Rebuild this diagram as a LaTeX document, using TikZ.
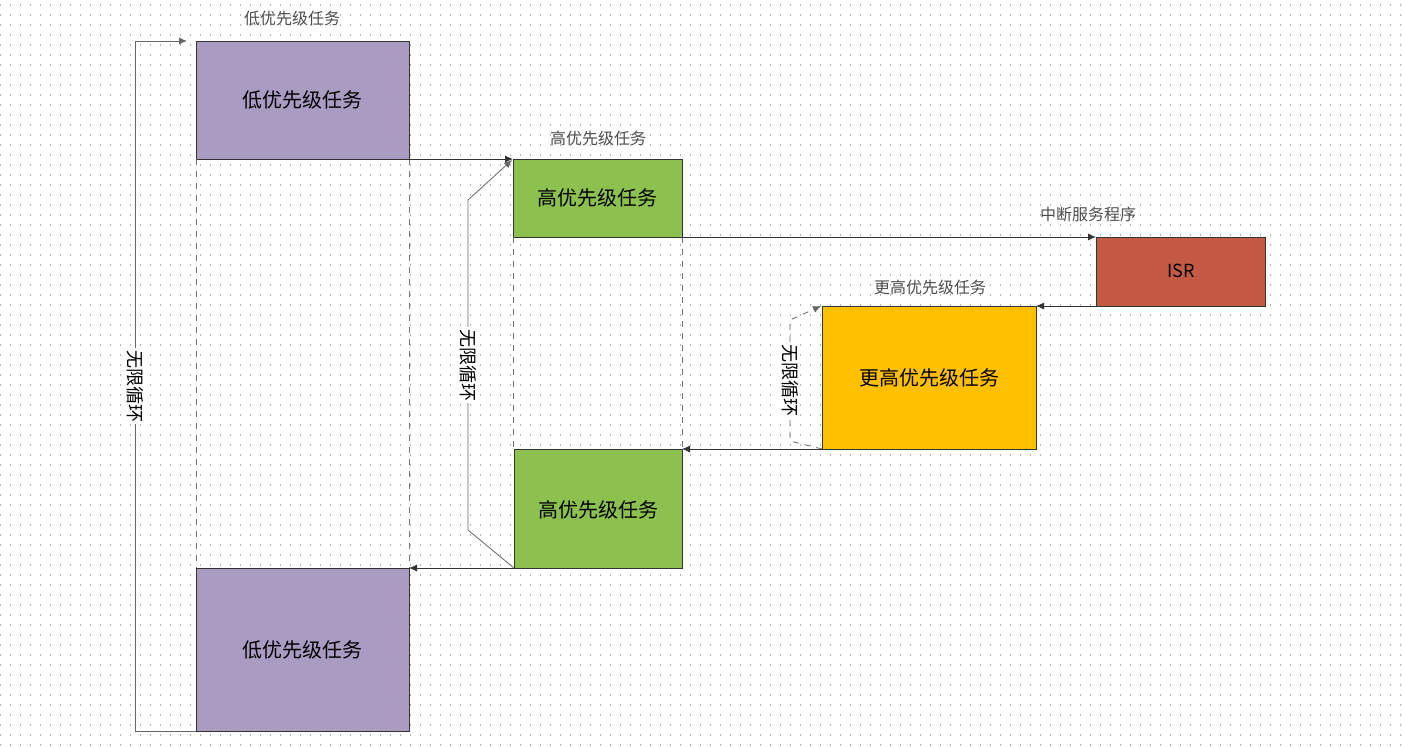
\documentclass[tikz,border=0pt]{standalone}
\usepackage{fontspec}
\setmainfont{Noto Sans CJK SC}
\usepackage{tikz}
\usetikzlibrary{arrows.meta}
\definecolor{lowcol}{HTML}{A99BC2}
\definecolor{highcol}{HTML}{8CC04F}
\definecolor{isrcol}{HTML}{C55A44}
\definecolor{topcol}{HTML}{FFC000}
\tikzset{
  task/.style={draw=black!80, thin},
  title/.style={font=\fontsize{8}{9}\selectfont, text=black!70},
  flow/.style={draw=black!80, thin, -{Latex[length=4pt,width=3.5pt]}},
  loopline/.style={draw=black!60, thin, -{Latex[length=4pt,width=3.5pt]}},
  guide/.style={draw=black!55, dashed, thin},
  looplabel/.style={fill=white, inner sep=1pt, rotate=-90, font=\fontsize{9}{10}\selectfont}
}
\begin{document}
\begin{tikzpicture}[x=0.5pt, y=-0.5pt]
  \useasboundingbox (0,0) rectangle (1402,746);
  % dotted background
  \foreach \yy in {5,15,...,745}
    \draw[black!30, line width=0.6pt, dash pattern=on 0.6pt off 4.4pt] (0,\yy) -- (1402,\yy);

  % task boxes
  \filldraw[task, fill=lowcol] (196,41) rectangle (409,159);
  \node (lowA) at (302,100) {低优先级任务};
  \filldraw[task, fill=highcol] (513,159) rectangle (682,237);
  \node (highA) at (597,198) {高优先级任务};
  \filldraw[task, fill=isrcol] (1096,237) rectangle (1265,306);
  \node (isr) at (1181,271) {\fontsize{9}{10}\selectfont ISR};
  \filldraw[task, fill=topcol] (822,306) rectangle (1036,449);
  \node (top) at (929,378) {更高优先级任务};
  \filldraw[task, fill=highcol] (514,449) rectangle (682,568);
  \node (highB) at (598,510) {高优先级任务};
  \filldraw[task, fill=lowcol] (196,568) rectangle (409,731);
  \node (lowB) at (302,650) {低优先级任务};

  % titles
  \node[title] (tLow) at (292,18) {低优先级任务};
  \node[title] (tHigh) at (598,138) {高优先级任务};
  \node[title] (tIsr) at (1088,214) {中断服务程序};
  \node[title] (tTop) at (930,287) {更高优先级任务};

  % guides
  \draw[guide] (196,159) -- (196,568);
  \draw[guide] (409,159) -- (409,568);
  \draw[guide] (513,237) -- (513,449);
  \draw[guide] (682,237) -- (682,449);

  % flow
  \draw[flow] (409,159) -- (513,159);
  \draw[flow] (682,237) -- (1096,237);
  \draw[flow] (1096,306) -- (1036,306);
  \draw[flow] (822,449) -- (682,449);
  \draw[flow] (514,568) -- (409,568);

  % loops
  \draw[loopline] (196,731) -- (135,731) -- node[looplabel] {无限循环} (135,41) -- (187,41);
  \draw[loopline] (514,568) -- (468,530) -- node[looplabel] {无限循环} (468,200) -- (512,160);
  \draw[loopline, dashed] (822,449) -- (790,441) -- node[looplabel] {无限循环} (790,320) -- (821,306);
\end{tikzpicture}
\end{document}
